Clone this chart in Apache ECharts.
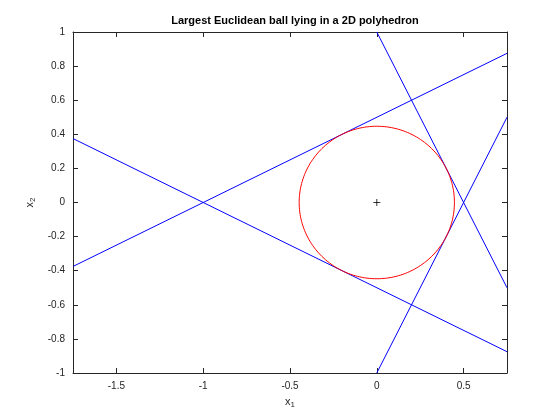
<!DOCTYPE html>
<html><head><meta charset="utf-8">
<script src="https://cdn.jsdelivr.net/npm/echarts@6/dist/echarts.min.js"></script>
<style>html,body{margin:0;background:#fff}#c{width:560px;height:420px}</style></head>
<body><div id="c"></div>
<script>
// polyhedron edges (endpoints)
const line1 = [[0, 1], [0.75, -0.5]];
const line2 = [[0, -1], [0.75, 0.5]];
const line3 = [[-1.75, -0.375], [0.75, 0.875]];
const line4 = [[-1.75, 0.375], [0.75, -0.875]];
const center = [0, 0];
const radius = 0.4472;
const xTicks = [-1.5, -1, -0.5, 0, 0.5];
const yTicks = [-1, -0.8, -0.6, -0.4, -0.2, 0, 0.2, 0.4, 0.6, 0.8, 1];

const circle = [];
for (let i = 0; i <= 200; i++) {
  const t = 2 * Math.PI * i / 200;
  circle.push([center[0] + radius * Math.cos(t), center[1] + radius * Math.sin(t)]);
}
const fmt = v => String(v).replace('0.', '.').replace('-.', '-0.').replace(/^\./, '0.');
const base = {type: 'value', axisLine: {onZero: false, lineStyle: {color: '#262626'}}, splitLine: {show: false},
  axisTick: {inside: true, length: 5, lineStyle: {color: '#262626'}}};
const lblX = {color: '#262626', fontSize: 10, fontFamily: 'Helvetica, Arial, sans-serif', customValues: xTicks, formatter: v => String(v)};
const lblY = {color: '#262626', fontSize: 10, fontFamily: 'Helvetica, Arial, sans-serif', customValues: yTicks, formatter: v => String(+v.toFixed(1))};
const nameStyle = {color: '#262626', fontSize: 11, rich: {s: {fontSize: 8, verticalAlign: 'bottom', padding: [6, 0, 0, 0]}}};
const chart = echarts.init(document.getElementById('c'));
const blue = '#0000ff';
const mk = d => ({type: 'line', data: d, showSymbol: false, lineStyle: {color: blue, width: 1}, silent: true});
chart.setOption({
  animation: false,
  title: {text: 'Largest Euclidean ball lying in a 2D polyhedron', left: 290, top: 10, textAlign: 'center',
    textStyle: {fontSize: 11, fontWeight: 'bold', color: '#000', fontFamily: 'Helvetica, Arial, sans-serif'}},
  grid: {left: 73, right: 53, top: 32, bottom: 47},
  xAxis: [
    Object.assign({}, base, {min: -1.75, max: 0.75, position: 'bottom', axisLabel: lblX,
      axisTick: Object.assign({}, base.axisTick, {customValues: xTicks}),
      name: '{n|x}{s|1}', nameLocation: 'middle', nameGap: 22, nameTextStyle: Object.assign({}, nameStyle, {rich: {n: {fontSize: 11}, s: nameStyle.rich.s}})}),
    Object.assign({}, base, {min: -1.75, max: 0.75, position: 'top', axisLabel: {show: false},
      axisTick: Object.assign({}, base.axisTick, {customValues: xTicks})})
  ],
  yAxis: [
    Object.assign({}, base, {min: -1, max: 1, interval: 0.2, position: 'left', axisLabel: lblY,
      name: '{n|x}{s|2}', nameLocation: 'middle', nameGap: 30, nameRotate: 90, nameTextStyle: Object.assign({}, nameStyle, {rich: {n: {fontSize: 11}, s: nameStyle.rich.s}})}),
    Object.assign({}, base, {min: -1, max: 1, interval: 0.2, position: 'right', axisLabel: {show: false}})
  ],
  series: [
    mk(line1), mk(line2), mk(line3), mk(line4),
    {type: 'line', data: circle, showSymbol: false, lineStyle: {color: '#ff0000', width: 1}, silent: true},
    {type: 'scatter', data: [center], symbol: 'path://M-1,0L1,0M0,-1L0,1', symbolSize: 7,
      itemStyle: {color: 'none', borderColor: '#000', borderWidth: 1}}
  ]
});
</script></body></html>
